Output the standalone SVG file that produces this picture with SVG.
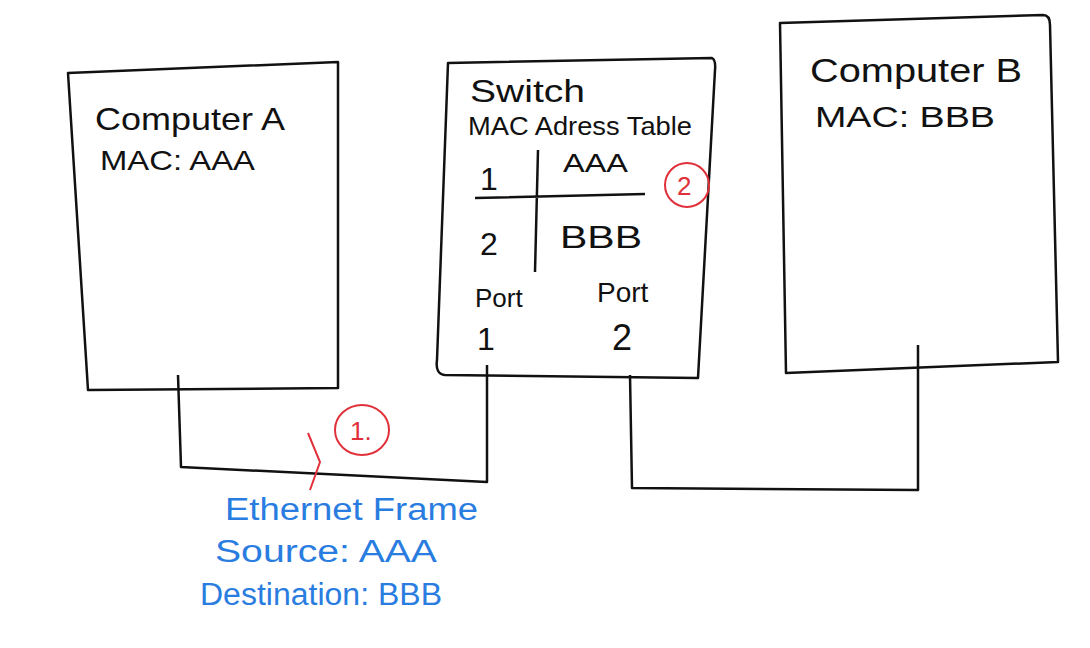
<svg xmlns="http://www.w3.org/2000/svg" width="1090" height="648" viewBox="0 0 1090 648">
<style>
.box{fill:none;stroke:#111;stroke-width:2.5;stroke-linejoin:round}
.t{font-family:"Liberation Sans",sans-serif;fill:#111}
.red{fill:none;stroke:#e0303a;stroke-width:2}
.rt{font-family:"Liberation Sans",sans-serif;fill:#e0303a;font-size:26px}
.bt{font-family:"Liberation Sans",sans-serif;fill:#2a7de0;font-size:31px}
</style>
<rect width="1090" height="648" fill="#fff"/>
<g id="computerA">
<path class="box" d="M68,73 L338,62 L338,388 L88,390 Z"/>
<text class="t" x="95" y="130" font-size="32" textLength="190" lengthAdjust="spacingAndGlyphs">Computer A</text>
<text class="t" x="100" y="170" font-size="28" textLength="155" lengthAdjust="spacingAndGlyphs">MAC: AAA</text>
</g>
<g id="switch">
<path class="box" d="M448,63 L712,58 Q716,60 715,70 L698,378 L445,375 Q435,374 437,360 L448,63 Z"/>
<text class="t" x="470" y="102" font-size="32" textLength="115" lengthAdjust="spacingAndGlyphs">Switch</text>
<text class="t" x="468" y="135" font-size="26" textLength="224" lengthAdjust="spacingAndGlyphs">MAC Adress Table</text>
<path class="box" d="M538,150 L535,272 M475,198 L645,194"/>
<text class="t" x="480" y="190" font-size="32">1</text>
<text class="t" x="563" y="172" font-size="26" textLength="65" lengthAdjust="spacingAndGlyphs">AAA</text>
<text class="t" x="480" y="255" font-size="32">2</text>
<text class="t" x="560" y="248" font-size="32" textLength="82" lengthAdjust="spacingAndGlyphs">BBB</text>
<text class="t" x="475" y="307" font-size="26">Port</text>
<text class="t" x="477" y="350" font-size="32">1</text>
<text class="t" x="597" y="302" font-size="28">Port</text>
<text class="t" x="612" y="350" font-size="36">2</text>
</g>
<g id="computerB">
<path class="box" d="M780,23 L1043,15 Q1050,15 1050,25 L1058,362 L786,373 Z"/>
<text class="t" x="810" y="82" font-size="34" textLength="212" lengthAdjust="spacingAndGlyphs">Computer B</text>
<text class="t" x="815" y="127" font-size="30" textLength="180" lengthAdjust="spacingAndGlyphs">MAC: BBB</text>
</g>
<g id="connectors">
<path class="box" d="M178,375 L181,467 L487,482 L487,365"/>
<path class="box" d="M630,375 L632,488 L918,490 L918,345"/>
</g>
<g id="note1">
<ellipse class="red" cx="362" cy="430" rx="27" ry="25"/>
<text class="rt" x="350" y="440">1.</text>
<path class="red" d="M308,433 L320,462 L310,490"/>
</g>
<g id="note2">
<ellipse class="red" cx="687" cy="185" rx="22" ry="22"/>
<text class="rt" x="677" y="195">2</text>
</g>
<g id="frame">
<text class="bt" x="225" y="520" textLength="253" lengthAdjust="spacingAndGlyphs">Ethernet Frame</text>
<text class="bt" x="215" y="562" textLength="222" lengthAdjust="spacingAndGlyphs">Source: AAA</text>
<text class="bt" x="200" y="605" textLength="242" lengthAdjust="spacingAndGlyphs">Destination: BBB</text>
</g>
</svg>
